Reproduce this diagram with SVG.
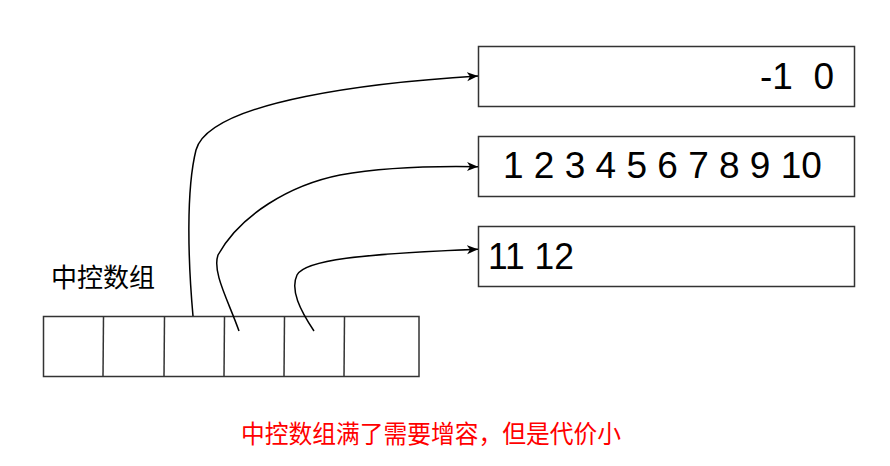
<svg xmlns="http://www.w3.org/2000/svg" width="890" height="466" viewBox="0 0 890 466">
<defs>
<style>
.box{fill:#fff;stroke:#333;stroke-width:1.5}
.cell{fill:none;stroke:#333;stroke-width:1.5}
.num{font-family:"Liberation Sans",Arial,sans-serif;font-size:37px;fill:#000}
.cjk{font-family:"Noto Sans CJK SC","Liberation Sans",sans-serif}
.edge{fill:none;stroke:#000;stroke-width:1.5}
</style>
<marker id="arr" markerUnits="userSpaceOnUse" markerWidth="12" markerHeight="10" refX="11" refY="4.5" orient="auto" viewBox="0 0 12 10">
<path d="M0,0 L11,4.5 L0,9 L3,4.5 Z" fill="#000"/>
</marker>
</defs>
<rect width="890" height="466" fill="#fff"/>
<g id="box1">
<rect class="box" x="478.5" y="46.5" width="376" height="60"/>
<text class="num" x="834" y="89" text-anchor="end" xml:space="preserve">-1  0</text>
</g>
<g id="box2">
<rect class="box" x="478.5" y="136.5" width="376" height="60"/>
<text class="num" x="503" y="178">1 2 3 4 5 6 7 8 9 10</text>
</g>
<g id="box3">
<rect class="box" x="478.5" y="226.5" width="376" height="60"/>
<text class="num" x="488" y="269" textLength="86" lengthAdjust="spacingAndGlyphs">11 12</text>
</g>
<g id="label">
<text class="cjk" x="51" y="287" font-size="26" fill="#000">中控数组</text>
</g>
<g id="array">
<rect class="cell" x="43.5" y="316.5" width="375.5" height="60"/>
<line class="cell" x1="103.5" y1="316.5" x2="103" y2="376.5"/>
<line class="cell" x1="164.5" y1="316.5" x2="164" y2="376.5"/>
<line class="cell" x1="224.5" y1="316.5" x2="224" y2="376.5"/>
<line class="cell" x1="284.5" y1="316.5" x2="284" y2="376.5"/>
<line class="cell" x1="344.5" y1="316.5" x2="344" y2="376.5"/>
</g>
<g id="connectors">
<path class="edge" d="M193,316 C188,260 186,190 196,150 C210,100 380,82 478,76" marker-end="url(#arr)"/>
<path class="edge" d="M239,331 C228,300 212,272 218,255 C240,215 290,185 340,175 C390,166 440,166 478,166.7" marker-end="url(#arr)"/>
<path class="edge" d="M314,331 C300,310 290,290 297,275 C305,260 360,254 478,249.3" marker-end="url(#arr)"/>
</g>
<g id="note">
<text class="cjk" x="241" y="443" font-size="25" textLength="380" lengthAdjust="spacingAndGlyphs" fill="#FF0000">中控数组满了需要增容，但是代价小</text>
</g>
</svg>
